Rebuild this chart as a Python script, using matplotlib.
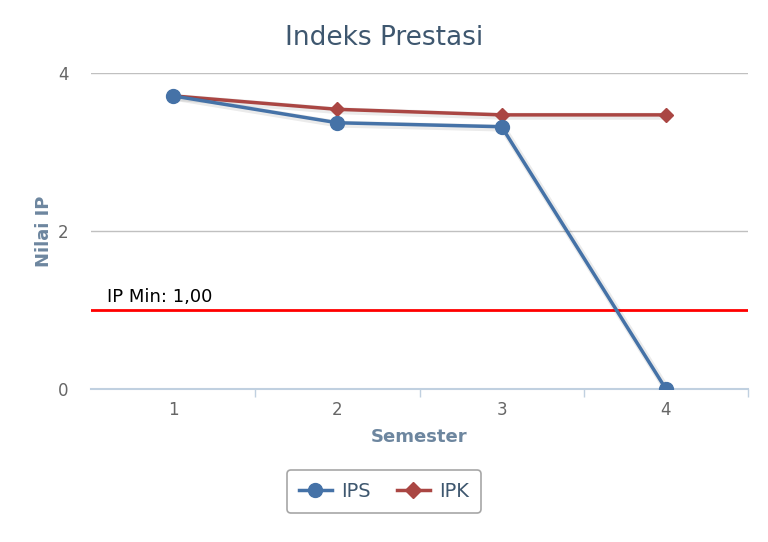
import matplotlib
matplotlib.use("Agg")
import matplotlib.pyplot as plt
import matplotlib.patheffects as pe
from matplotlib.lines import Line2D

semester = [1, 2, 3, 4]
semester_labels = ["1", "2", "3", "4"]
ips = [3.71, 3.37, 3.32, 0.0]
ipk = [3.71, 3.54, 3.47, 3.47]
ip_min = 1.00
ip_min_label = "IP Min: 1,00"

plt.rcParams['font.family'] = ['DejaVu Sans']

fig = plt.figure(figsize=(7.68, 5.42), dpi=100)
ax = fig.add_axes([0.1185, 0.2823, 0.8555, 0.583])

shadow = [pe.SimpleLineShadow(offset=(1, -1), alpha=0.08, shadow_color='black', linewidth=5), pe.Normal()]

# garis batas minimum
ax.axhline(ip_min, color='#FF0000', lw=2, zorder=2)
ax.text(0.6, ip_min + 0.05, ip_min_label, fontsize=13, color='black', ha='left', va='bottom')

# garis dengan bayangan, marker terpisah
ax.plot(semester, ipk, color='#AA4643', lw=2.5, zorder=3, path_effects=shadow)
ax.plot(semester, ips, color='#4572A7', lw=2.5, zorder=4, path_effects=shadow)
ax.plot(semester, ipk, ls='none', color='#AA4643', marker='D', markersize=7.5, zorder=5)
ax.plot(semester, ips, ls='none', color='#4572A7', marker='o', markersize=10, zorder=6)

ax.set_xlim(0.5, 4.5)
ax.set_ylim(0, 4)
ax.set_yticks([0, 2, 4])
ax.set_xticks(semester)
ax.set_xticklabels(semester_labels)
ax.set_xticks([1.5, 2.5, 3.5, 4.5], minor=True)
ax.tick_params(axis='x', which='major', length=0, pad=9, labelsize=12, colors='#666666')
ax.tick_params(axis='x', which='minor', length=6, color='#C0D0E0', width=1)
ax.tick_params(axis='y', length=0, pad=16, labelsize=12, labelcolor='#666666')
ax.yaxis.grid(True, color='#C0C0C0', lw=1)
ax.set_axisbelow(True)
for s in ['top', 'right', 'left']:
    ax.spines[s].set_visible(False)
ax.spines['bottom'].set_color('#C0D0E0')
ax.spines['bottom'].set_linewidth(1.5)

ax.set_xlabel('Semester', fontsize=13, fontweight='bold', color='#6D869F', labelpad=6)
ax.set_ylabel('Nilai IP', fontsize=13, fontweight='bold', color='#6D869F', labelpad=4)
fig.text(0.5, 0.93, 'Indeks Prestasi', fontsize=19, color='#3E576F', ha='center', va='center')

handles = [
    Line2D([], [], color='#4572A7', lw=2.5, marker='o', markersize=10),
    Line2D([], [], color='#AA4643', lw=2.5, marker='D', markersize=8),
]
leg = fig.legend(handles, ['IPS', 'IPK'], loc='center', bbox_to_anchor=(0.5, 0.093), ncol=2,
                 frameon=True, fontsize=14, handlelength=1.7, handletextpad=0.5,
                 columnspacing=1.3, borderpad=0.6, fancybox=True, edgecolor='#909090')
leg.get_frame().set_linewidth(1.2)
for t in leg.get_texts():
    t.set_color('#3E576F')

fig.savefig('out.png', dpi=100)
